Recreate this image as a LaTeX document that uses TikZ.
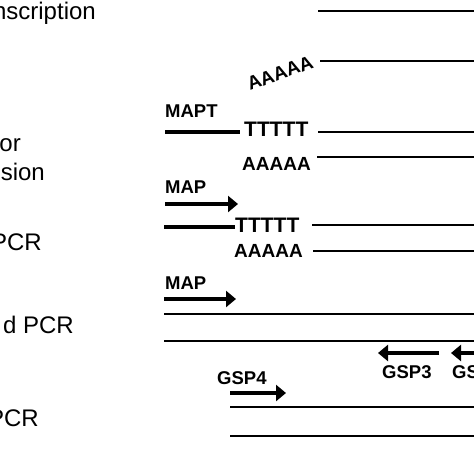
\documentclass[tikz,border=0pt]{standalone}
\usepackage{fontspec}
\setmainfont{Liberation Sans}
\usetikzlibrary{arrows.meta}
\tikzset{
  lbl/.style={inner sep=0pt, font=\fontsize{24}{28}\selectfont},
  blbl/.style={inner sep=0pt, font=\fontsize{18.5}{21}\selectfont\bfseries},
  albl/.style={inner sep=0pt, font=\fontsize{19}{22}\selectfont\bfseries},
  tlbl/.style={inner sep=0pt, font=\fontsize{21}{24}\selectfont\bfseries},
  strand/.style={line width=1.3pt},
  primer/.style={line width=3.5pt},
  primerarrow/.style={line width=3.5pt, -{Triangle[length=10pt,width=16pt]}},
}
\begin{document}
\begin{tikzpicture}[x=1pt,y=-1pt]
\useasboundingbox (0,0) rectangle (474,474);
% left labels
\node[lbl, anchor=base east] (t1) at (96,19) {nscription};
\node[lbl, anchor=base east] (t2) at (21,151) {or};
\node[lbl, anchor=base east] (t3) at (45,180) {sion};
\node[lbl, anchor=base east] (t4) at (42,250) {PCR};
\node[lbl, anchor=base east] (t5) at (74,333) {d PCR};
\node[lbl, anchor=base east] (t6) at (39,426) {PCR};
% row 1
\coordinate (a1) at (318,11); \coordinate (b1) at (474,11);
\draw[strand] (a1) -- (b1);
% row 2
\node[albl, rotate=20] (pa) at (280,73) {AAAAA};
\coordinate (a2) at (320,61); \coordinate (b2) at (474,61);
\draw[strand] (a2) -- (b2);
% row 3
\node[blbl, anchor=base west] (mapt) at (165,117) {MAPT};
\coordinate (p3a) at (165,132); \coordinate (p3b) at (240,132);
\draw[primer] (p3a) -- (p3b);
\node[tlbl, anchor=base west] (tt1) at (244,136) {TTTTT};
\coordinate (a3) at (318,132); \coordinate (b3) at (474,132);
\draw[strand] (a3) -- (b3);
\node[albl, anchor=base west] (aa1) at (242,170) {AAAAA};
\coordinate (a4) at (317,157); \coordinate (b4) at (474,157);
\draw[strand] (a4) -- (b4);
% row 4
\node[blbl, anchor=base west] (map1) at (165,193) {MAP};
\coordinate (m1a) at (165,204); \coordinate (m1b) at (238,204);
\draw[primerarrow] (m1a) -- (m1b);
\coordinate (p4a) at (164,227); \coordinate (p4b) at (235,227);
\draw[primer] (p4a) -- (p4b);
\node[tlbl, anchor=base west] (tt2) at (235,232) {TTTTT};
\coordinate (a5) at (312,225); \coordinate (b5) at (474,225);
\draw[strand] (a5) -- (b5);
\node[albl, anchor=base west] (aa2) at (234,257) {AAAAA};
\coordinate (a6) at (313,251); \coordinate (b6) at (474,251);
\draw[strand] (a6) -- (b6);
% row 5
\node[blbl, anchor=base west] (map2) at (165,289) {MAP};
\coordinate (m2a) at (164,299); \coordinate (m2b) at (236,299);
\draw[primerarrow] (m2a) -- (m2b);
\coordinate (a7) at (164,314); \coordinate (b7) at (474,314);
\draw[strand] (a7) -- (b7);
\coordinate (a8) at (164,341); \coordinate (b8) at (474,341);
\draw[strand] (a8) -- (b8);
\coordinate (g3a) at (439,353); \coordinate (g3b) at (378,353);
\draw[primerarrow] (g3a) -- (g3b);
\node[blbl, anchor=base west] (gsp3) at (382,378) {GSP3};
\coordinate (g2a) at (480,353); \coordinate (g2b) at (451,353);
\draw[primerarrow] (g2a) -- (g2b);
\node[blbl, anchor=base west] (gsp2) at (452,378) {GS};
% row 6
\node[blbl, anchor=base west] (gsp4) at (217,384) {GSP4};
\coordinate (g4a) at (230,393); \coordinate (g4b) at (286,393);
\draw[primerarrow] (g4a) -- (g4b);
\coordinate (a9) at (230,407); \coordinate (b9) at (474,407);
\draw[strand] (a9) -- (b9);
\coordinate (a10) at (230,436); \coordinate (b10) at (474,436);
\draw[strand] (a10) -- (b10);
\end{tikzpicture}
\end{document}
